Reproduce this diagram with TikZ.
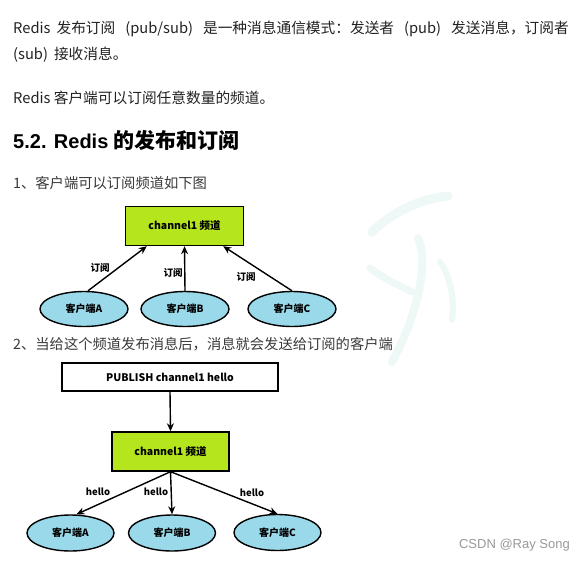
\documentclass[tikz,border=0pt]{standalone}
\usepackage{fontspec}
\setmainfont{Noto Sans CJK SC}
\newfontfamily\latinsans{Liberation Sans}
\usetikzlibrary{shapes.geometric,arrows.meta}
\definecolor{limebox}{HTML}{B5E61D}
\definecolor{turq}{HTML}{99D9EA}
\definecolor{bodytext}{HTML}{222222}
\definecolor{graytext}{HTML}{3A3A3A}
\definecolor{wmark}{HTML}{EEF8F6}
\newcommand{\pgap}{\hspace{10pt}}
\tikzset{
  para/.style={anchor=west,inner sep=0pt,text=bodytext,font=\fontsize{14.7}{17}\selectfont},
  chanbox/.style={draw=black,line width=1.4pt,fill=limebox,minimum width=118pt,minimum height=39pt,inner sep=0pt,font=\bfseries\fontsize{10.5}{12}\selectfont},
  pubbox/.style={draw=black,line width=1.4pt,fill=white,minimum width=216pt,minimum height=28pt,inner sep=0pt,font=\bfseries\fontsize{10.5}{12}\selectfont},
  client/.style={ellipse,draw=black,line width=1.4pt,fill=turq,minimum width=88pt,minimum height=35pt,inner sep=0pt,font=\bfseries\fontsize{10}{12}\selectfont},
  conn/.style={line width=1.4pt,-{Stealth[length=8pt,width=7pt]}},
  lab/.style={inner sep=0pt,font=\bfseries\fontsize{9.5}{11}\selectfont}
}
\begin{document}
\begin{tikzpicture}[x=1pt,y=-1pt]
\useasboundingbox[fill=white] (0,0) rectangle (585,561);
% watermark
\draw[wmark,line width=9pt,line cap=round] (372,232) .. controls (400,205) and (430,198) .. (448,196);
\draw[wmark,line width=8pt,line cap=round] (418,238) .. controls (430,265) and (415,320) .. (392,362);
\draw[wmark,line width=7pt,line cap=round] (370,268) .. controls (385,280) and (400,285) .. (412,292);
\draw[wmark,line width=6pt,line cap=round] (440,262) .. controls (450,275) and (455,300) .. (452,320);

% text
\node[para] (t1) at (13,29) {Redis\hspace{6pt}发布订阅\pgap{}(pub/sub)\pgap{}是一种消息通信模式：发送者\pgap{}(pub)\pgap{}发送消息，订阅者};
\node[para] (t2) at (13,55) {(sub)\hspace{6pt}接收消息。};
\node[para] (t3) at (13,98) {Redis 客户端可以订阅任意数量的频道。};
\node[para,font=\bfseries\fontsize{21}{24}\selectfont,text=black] (h) at (13,140) {{\latinsans\fontsize{20}{24}\selectfont 5.2. Redis} 的发布和订阅};
\node[para,text=graytext,font=\fontsize{14.3}{16}\selectfont] (s1) at (13,183) {1、客户端可以订阅频道如下图};
\node[para,text=graytext,font=\fontsize{14.3}{16}\selectfont] (s2) at (13,344) {2、当给这个频道发布消息后，消息就会发送给订阅的客户端};

% diagram 1
\node[chanbox] (ch1) at (184.5,226) {channel1 频道};
\node[client] (a1) at (84,309) {客户端A};
\node[client] (b1) at (185,309) {客户端B};
\node[client] (c1) at (292,309) {客户端C};
\draw[conn] ([xshift=4pt]a1.north) -- ([xshift=22pt]ch1.south west);
\draw[conn] (b1.north) -- (ch1.south);
\draw[conn] (c1.north) -- ([xshift=-21pt]ch1.south east);
\node[lab] (l1) at (100,268) {订阅};
\node[lab] (l2) at (173,273) {订阅};
\node[lab] (l3) at (246,277) {订阅};

% diagram 2
\node[pubbox] (pub) at (170,377) {PUBLISH channel1 hello};
\node[chanbox,minimum width=117pt] (ch2) at (170.5,451.5) {channel1 频道};
\node[client,minimum width=87pt,minimum height=36pt] (a2) at (70.5,533) {客户端A};
\node[client,minimum width=87pt,minimum height=36pt] (b2) at (172,533) {客户端B};
\node[client,minimum width=87pt,minimum height=36pt] (c2) at (277.5,532.5) {客户端C};
\draw[conn] (pub.south) -- (ch2.north);
\draw[conn] (ch2.south) -- ([xshift=6pt]a2.north);
\draw[conn] (ch2.south) -- (b2.north);
\draw[conn] (ch2.south) -- (c2.north);
\node[lab] (h1) at (98,492) {hello};
\node[lab] (h2) at (156,492) {hello};
\node[lab] (h3) at (252,493) {hello};

\node[anchor=east,inner sep=0pt,text=gray!80,font=\latinsans\fontsize{13}{15}\selectfont] (csdn) at (570,545) {CSDN @Ray Song};
\end{tikzpicture}
\end{document}
